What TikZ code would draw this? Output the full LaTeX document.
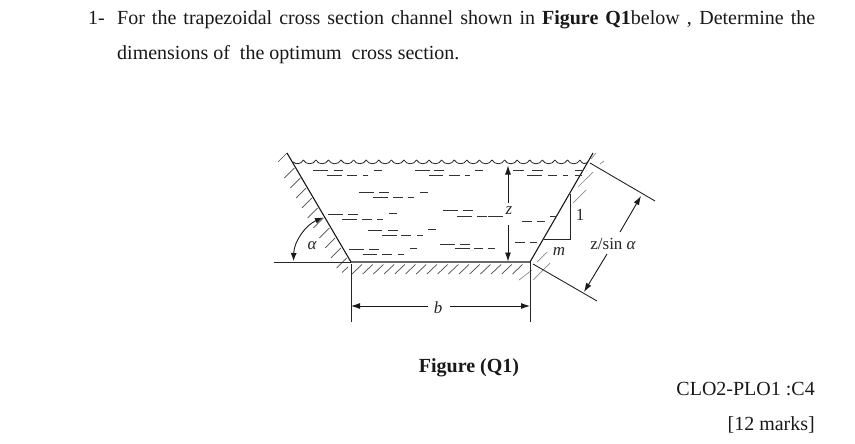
\documentclass[tikz,border=0pt]{standalone}
\usepackage{fontspec}
\setmainfont{Liberation Serif}
\usetikzlibrary{arrows.meta}
\tikzset{
  px/.style={x=1pt,y=-1pt},
  solidline/.style={line width=1.1pt,draw=black!90},
  thinline/.style={line width=0.9pt,draw=black!85},
  hatch/.style={line width=0.7pt,draw=black!70},
  lighthatch/.style={line width=0.7pt,draw=black!45},
  wave/.style={line width=0.8pt,draw=black!85},
  dashmark/.style={line width=1pt,draw=black!80},
  dim/.style={line width=0.9pt,draw=black!90,-{Latex[length=9pt,width=6pt]}},
  body/.style={inner sep=0pt,anchor=base west,font=\fontsize{20pt}{22pt}\selectfont,text=black!90},
  bodyright/.style={inner sep=0pt,anchor=base east,font=\fontsize{20pt}{22pt}\selectfont,text=black!90},
  lbl/.style={inner sep=0pt,font=\fontsize{17pt}{18pt}\selectfont\itshape,text=black!85},
  lblup/.style={inner sep=0pt,font=\fontsize{17pt}{18pt}\selectfont,text=black!85},
}
\begin{document}
\begin{tikzpicture}[px]
\useasboundingbox[fill=white] (0,0) rectangle (855,444);

% heading text
\node[body] (num) at (88,25) {1-};
\node[body] (line1) at (117,25) {\makebox[698pt][s]{For the trapezoidal cross section channel shown in \textbf{Figure Q1}below , Determine the}};
\node[body] (line2) at (117,60) {dimensions of\ \ the optimum\ \ cross section.};
\node[body,anchor=base] (cap) at (469,372) {\textbf{Figure (Q1)}};
\node[bodyright] (clo) at (815,395) {CLO2-PLO1 :C4};
\node[bodyright] (marks) at (815,430) {[12 marks]};

% key points of the section
\coordinate (tl) at (293,162);
\coordinate (tlx) at (287,153);
\coordinate (bl) at (351,262);
\coordinate (br) at (530,262);
\coordinate (tr) at (588,162);
\coordinate (trx) at (593,153);
\coordinate (gl) at (274,262);

% water surface
\draw[wave] (tl) .. controls (296,164.5) and (301,164.5) .. (303.3,160);
\foreach \k in {0,...,21}{
  \pgfmathsetmacro{\xa}{303.3+12.58*\k}
  \pgfmathsetmacro{\xb}{303.3+12.58*(\k+1)}
  \pgfmathsetmacro{\ca}{\xa+2.6}
  \pgfmathsetmacro{\cb}{\xb-2.6}
  \draw[wave] (\xa,160) .. controls (\ca,165) and (\cb,165) .. (\xb,160);
}
\draw[wave] (580,160) .. controls (582,164) and (585,164.5) .. (tr);

% hatching of left bank
\draw[hatch] (287,153) -- (278,162);
\foreach \y in {168,178,188,198,208,218,228,238,248,258}{
  \pgfmathsetmacro{\xs}{293+(\y-162)*0.58-2}
  \pgfmathsetmacro{\xe}{\xs-10}
  \pgfmathsetmacro{\ye}{\y+10}
  \draw[hatch] (\xs,\y) -- (\xe,\ye);
}
% hatching of bottom
\foreach \x in {352,362.7,373.4,384.1,394.8,405.5,416.2,426.9,437.6,448.3,459,469.7,480.4,491.1,501.8,512.5}{
  \pgfmathsetmacro{\xe}{\x+10}
  \draw[hatch] (\x,274) -- (\xe,264.5);
}
\draw[hatch] (342,272.5) -- (348,267);
% hatching of right bank
\draw[lighthatch] (596,153) -- (591,159);
\draw[lighthatch] (604,161) -- (600,164);
\draw[lighthatch] (593,172) -- (578,187);
\draw[lighthatch] (586,190) -- (573,203);
\draw[lighthatch] (547,252) -- (537,262);
\draw[lighthatch] (550,263) -- (533,280);
\draw[lighthatch] (532,270) -- (519,280);

% channel outline
\draw[solidline] (tlx) -- (bl) -- (br) -- (trx);
\draw[thinline] (gl) -- (bl);

% water dashes
\foreach \a/\b/\c in {
 313/328/170.7, 334/343/170.7, 374/382/170,
 327/342/175.3, 347/357/175.3, 363/368/175.3,
 415/430/170.7, 434/444/170.7, 475/483/170,
 429/443/175.3, 449/460/175.3, 465/470/175.3,
 513/524/170.7, 532/543/170.7, 575/582/170.7,
 527/542/175.3, 548/557/175.3, 563/568/175.3, 575/582/175.3,
 359/374/192, 379/389/192, 420/428/192,
 373/388/197, 393/403/197, 408/414/197,
 328/343/214, 348/358/214, 389/397/213.5,
 342/357/219, 362/372/219, 377/383/219,
 443/458/210.5, 463/473/210.5,
 457/472/216, 477/487/216, 488/503/216.5,
 522/532/221, 537/545/221, 550/557/216,
 368/382/230, 388/398/230.5, 428/436/229.5,
 382/397/235, 401/411/235, 417/423/235,
 349/364/249, 369/379/249.5, 410/417/248.5,
 363/377/254, 382/392/254, 398/404/254,
 440/455/244, 460/470/244,
 455/470/248.7, 474/483/248.7, 488/495/248.7,
 515/525/242, 530/537/242}{
  \draw[dashmark] (\a,\c) -- (\b,\c);
}

% depth dimension z
\node[lbl] (zl) at (509,211) {z};
\coordinate (ztop) at (508,165.5);
\coordinate (zbot) at (508,261.5);
\draw[dim] (508,203) -- (ztop);
\draw[dim] (508,225) -- (zbot);

% slope triangle
\coordinate (t1) at (570,194);
\coordinate (t2) at (570,239);
\coordinate (t3) at (544,239);
\draw[thinline] (t1) -- (t2) -- (t3);
\node[lblup] (one) at (580,215) {1};
\node[lbl] (m) at (559,251) {m};

% slant length dimension
\coordinate (s1a) at (590,163);
\coordinate (s1b) at (655,201);
\coordinate (s2a) at (533,264);
\coordinate (s2b) at (597,301);
\draw[thinline] (s1a) -- (s1b);
\draw[thinline] (s2a) -- (s2b);
\node[lblup] (zs) at (613,244) {z/sin {\itshape α}};
\coordinate (sa) at (641,196);
\coordinate (sb) at (584,292);
\draw[dim] (620,232) -- (sa);
\draw[dim] (607,254) -- (sb);

% angle alpha
\coordinate (aa) at (323,217.5);
\coordinate (ab) at (293.5,261);
\draw[line width=0.9pt,draw=black!90,{Latex[length=8pt,width=6pt]}-{Latex[length=8pt,width=6pt]}] (aa) .. controls (306,225) and (294,241) .. (ab);
\node[lbl] (al) at (312,246) {α};

% width dimension b
\coordinate (e1) at (351,322);
\coordinate (e2) at (530,322);
\draw[thinline] (351,264) -- (e1);
\draw[thinline] (br) -- (e2);
\node[lbl] (bl2) at (438,308) {b};
\coordinate (b1) at (351,306);
\coordinate (b2) at (530,306);
\draw[dim] (428,306) -- (b1);
\draw[dim] (450,306) -- (b2);
\end{tikzpicture}
\end{document}
